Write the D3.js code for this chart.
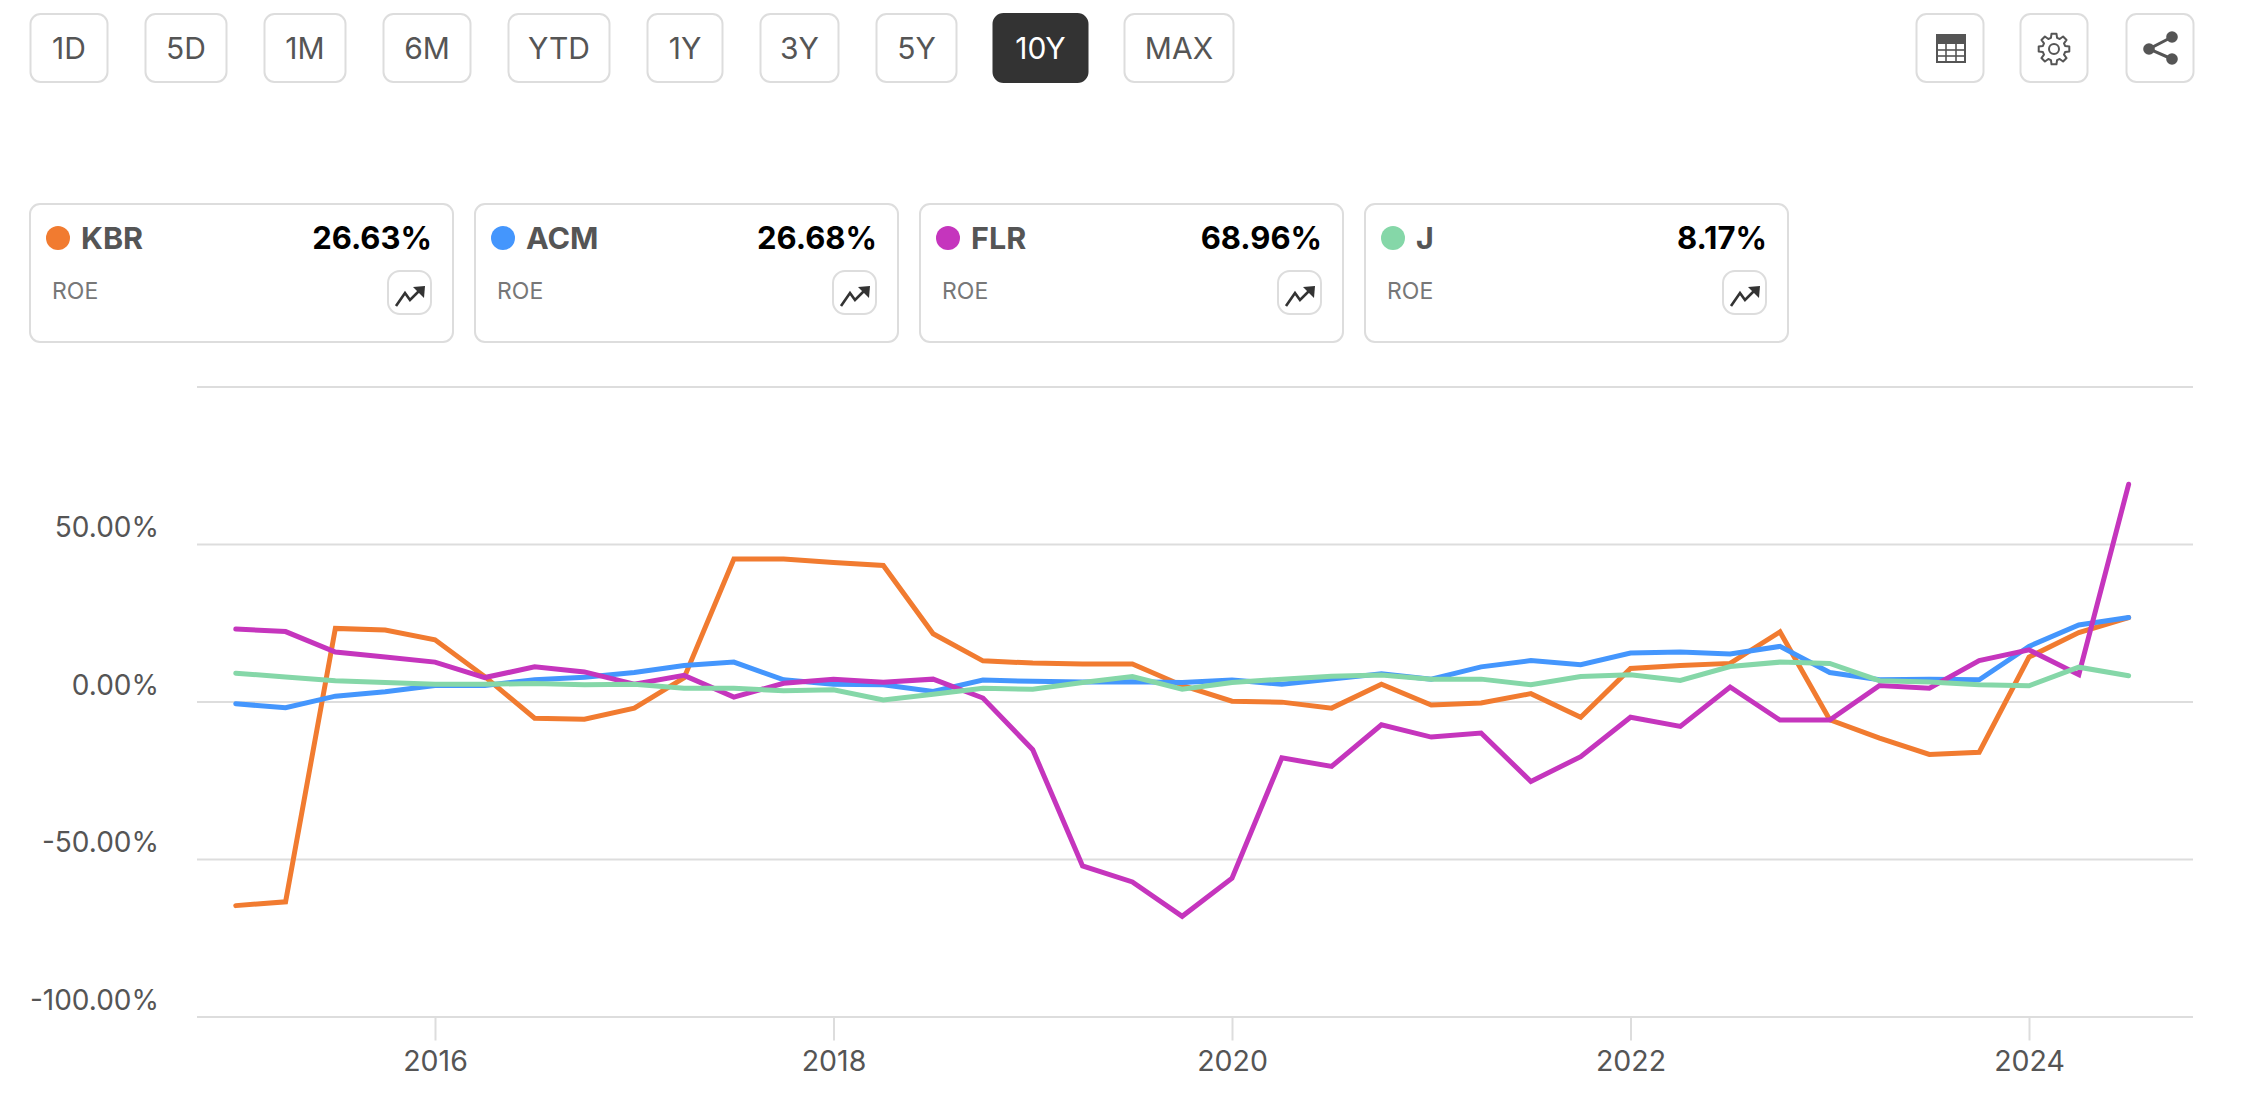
<!DOCTYPE html>
<html><head><meta charset="utf-8">
<script src="https://cdnjs.cloudflare.com/ajax/libs/d3/7.8.5/d3.min.js"></script>
<style>
html,body{margin:0;padding:0;background:#fff}
svg{display:block;font-family:Inter,"Liberation Sans",sans-serif}
</style></head><body><div id="chart"></div>
<script>
const rangeLabels=["1D","5D","1M","6M","YTD","1Y","3Y","5Y","10Y","MAX"];
const activeRange="10Y";
const tickerNames=["KBR","ACM","FLR","J"];
const latestLabels=["26.63%","26.68%","68.96%","8.17%"];
const metricLabel="ROE";
const yTickValues=[-100,-50,0,50,100];
const xTickYears=[2016,2018,2020,2022,2024];
const startYear=2015;
const kbr=[-64.8,-63.6,23.2,22.7,19.6,7.9,-5.3,-5.6,-2.1,7.5,45.2,45.2,44.1,43.2,21.5,12.9,12.2,11.9,11.9,5.1,0.1,-0.2,-2.1,5.5,-1.1,-0.5,2.5,-5,10.5,11.4,12.1,22.1,-5.8,-11.6,-16.8,-16.1,14.1,21.9,26.63];
const acm=[-0.7,-2,1.7,3.1,5.1,5.1,6.9,7.7,9.2,11.4,12.5,6.9,5.5,5.3,3.2,6.8,6.4,6.2,6.3,6,6.8,5.5,7.1,8.8,7.1,11,13,11.7,15.4,15.7,15.1,17.5,9.2,6.9,7.1,6.9,17.5,24.3,26.68];
const flr=[23,22.2,15.7,14.1,12.5,7.6,11,9.4,5.5,8.3,1.4,5.8,7.1,6.1,7.1,1.1,-15.3,-52.2,-57.3,-68.2,-56.1,-17.9,-20.6,-7.4,-11.3,-10,-25.4,-17.5,-5,-7.9,4.6,-5.9,-5.9,5.1,4.2,13,16.4,8.5,68.96];
const jec=[9,7.8,6.6,6,5.5,5.5,5.7,5.3,5.5,4.2,4.2,3.4,3.7,0.5,2.3,4.2,3.9,6,7.9,3.9,6,7.1,8,8.4,7.1,7.1,5.3,7.9,8.5,6.7,11.1,12.5,12.1,6.6,6.2,5.3,5,10.9,8.17];
const seriesValues=[kbr,acm,flr,jec];
const seriesColors=["#F17B30","#4496FD","#C535BD","#85D7A8"];
const W=2250,H=1118;
const svg=d3.select("#chart").append("svg").attr("width",W).attr("height",H);

const btnEdges=[[30,108],[145,227],[264,346],[383,471],[508,610],[647,723],[760,839],[876,957],[993,1088],[1124,1234]];
rangeLabels.forEach((t,i)=>{
  const [a,b]=btnEdges[i],on=t===activeRange;
  svg.append("rect").attr("x",a+0.5).attr("y",14).attr("width",b-a-1).attr("height",68).attr("rx",10)
    .attr("fill",on?"#333":"#fff").attr("stroke",on?"#333":"#ddd").attr("stroke-width",2);
  svg.append("text").attr("x",(a+b)/2).attr("y",59).attr("text-anchor","middle")
    .attr("font-size",30).attr("fill",on?"#fff":"#555").text(t);
});
[1916,2020,2126].forEach(a=>{
  svg.append("rect").attr("x",a+0.5).attr("y",14).attr("width",67).attr("height",68).attr("rx",10)
    .attr("fill","#fff").attr("stroke","#ddd").attr("stroke-width",2);
});
const ti=svg.append("g");
ti.append("rect").attr("x",1936).attr("y",34).attr("width",30).attr("height",10).attr("fill","#555");
ti.append("rect").attr("x",1937).attr("y",35).attr("width",28).attr("height",27).attr("fill","none").attr("stroke","#555").attr("stroke-width",2);
[1946,1956].forEach(x=>ti.append("line").attr("x1",x).attr("x2",x).attr("y1",44).attr("y2",62).attr("stroke","#555").attr("stroke-width",1.6));
[50,56].forEach(y=>ti.append("line").attr("x1",1937).attr("x2",1965).attr("y1",y).attr("y2",y).attr("stroke","#555").attr("stroke-width",1.6));
const gx=2054,gy=49,gearPts=[];
for(let i=0;i<8;i++){
  const c=i*Math.PI/4-Math.PI/2;
  [[-0.27,11.5],[-0.16,15.5],[0.16,15.5],[0.27,11.5]].forEach(([d,r])=>gearPts.push([gx+r*Math.cos(c+d),gy+r*Math.sin(c+d)]));
}
svg.append("path").attr("d",d3.line().curve(d3.curveLinearClosed)(gearPts)).attr("fill","none").attr("stroke","#555").attr("stroke-width",2).attr("stroke-linejoin","round");
svg.append("circle").attr("cx",gx).attr("cy",gy).attr("r",5).attr("fill","none").attr("stroke","#555").attr("stroke-width",2);
svg.append("path").attr("d","M2172 37L2149 49L2172 59").attr("fill","none").attr("stroke","#555").attr("stroke-width",3);
[[2172,37],[2149,49],[2172,59]].forEach(([x,y])=>svg.append("circle").attr("cx",x).attr("cy",y).attr("r",5.8).attr("fill","#555"));

const cardLeft=[30,475,920,1365];
tickerNames.forEach((name,i)=>{
  const x=cardLeft[i],g=svg.append("g").attr("transform",`translate(${x},0)`);
  g.append("rect").attr("x",0).attr("y",204).attr("width",423).attr("height",138).attr("rx",10)
    .attr("fill","#fff").attr("stroke","#ddd").attr("stroke-width",2);
  g.append("circle").attr("cx",28).attr("cy",238).attr("r",12).attr("fill",seriesColors[i]);
  g.append("text").attr("x",51).attr("y",249).attr("font-size",30.5).attr("font-weight",700).attr("fill","#555").text(name);
  g.append("text").attr("x",402).attr("y",249).attr("text-anchor","end").attr("font-size",31).attr("font-weight",700).attr("fill","#000").text(latestLabels[i]);
  g.append("text").attr("x",22).attr("y",299).attr("font-size",23).attr("fill","#777").text(metricLabel);
  g.append("rect").attr("x",358).attr("y",271).attr("width",43).attr("height",43).attr("rx",12)
    .attr("fill","#fff").attr("stroke","#ddd").attr("stroke-width",2);
  g.append("path").attr("d","M366 306L375 293L380 300L391 289").attr("fill","none").attr("stroke","#333").attr("stroke-width",2.6);
  g.append("path").attr("d","M383 287L395 286L394 298Z").attr("fill","#333");
});

const xScale=d3.scaleLinear().domain([2016,2024]).range([435,2029]);
const yScale=d3.scaleLinear().domain([100,-100]).range([386.5,1016.5]);
const gridLeft=197,gridRight=2193;
const yAxis=svg.append("g").attr("transform",`translate(${gridRight},0)`)
  .call(d3.axisLeft(yScale).tickValues(yTickValues).tickSize(gridRight-gridLeft).tickFormat(d=>d===100?"":d3.format(".2f")(d).replace("−","-")+"%"));
yAxis.select(".domain").remove();
yAxis.selectAll("line").attr("stroke","#ddd").attr("stroke-width",2);
yAxis.selectAll("text").attr("x",-(gridRight-159)).attr("dy",0).attr("y",-15).attr("dominant-baseline","middle")
  .attr("font-size",28).attr("font-family","Inter").attr("fill","#555");
const xAxis=svg.append("g").attr("transform","translate(0,1016.5)")
  .call(d3.axisBottom(xScale).tickValues(xTickYears).tickFormat(d3.format("d")).tickSize(24).tickPadding(10));
xAxis.select(".domain").remove();
xAxis.selectAll("line").attr("stroke","#ddd").attr("stroke-width",2);
xAxis.selectAll("text").attr("font-size",28.5).attr("font-family","Inter").attr("fill","#555");

const line=d3.line().x((d,i)=>xScale(startYear+i/4)).y(d=>yScale(d));
seriesValues.forEach((vals,i)=>{
  svg.append("path").datum(vals).attr("d",line).attr("fill","none")
    .attr("stroke",seriesColors[i]).attr("stroke-width",5)
    .attr("stroke-linejoin","miter").attr("stroke-linecap","round");
});
</script></body></html>
